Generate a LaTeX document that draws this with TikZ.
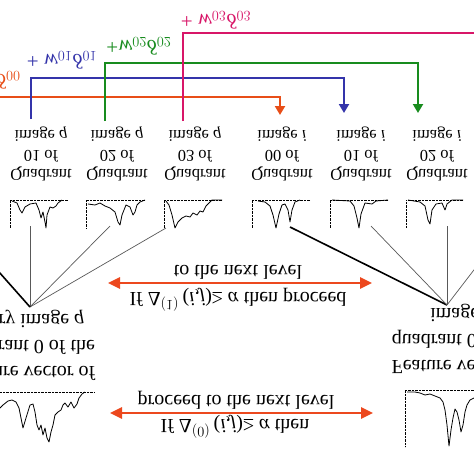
\documentclass[tikz,border=0pt]{standalone}
\usepackage{fontspec}
\setmainfont{Liberation Serif}
\usetikzlibrary{arrows.meta}
\definecolor{cora}{RGB}{232,78,24}
\definecolor{cblu}{RGB}{52,52,170}
\definecolor{cgrn}{RGB}{24,140,30}
\definecolor{cmag}{RGB}{216,22,104}
\definecolor{carr}{RGB}{236,72,30}
\begin{document}
\begin{tikzpicture}[x=1pt,y=1pt,yscale=-1,transform shape,
  qlab/.style={font=\fontsize{16.5}{19.5}\selectfont,align=center,inner sep=0pt},
  flab/.style={font=\fontsize{20}{26}\selectfont,align=center,inner sep=0pt},
  mlab/.style={font=\fontsize{20}{24}\selectfont,inner sep=0pt},
  wlab/.style={font=\fontsize{21}{24}\selectfont,inner sep=0pt},
  conn/.style={line width=2pt},
  tipd/.style={-{Triangle[length=9pt,width=10pt]}},
  thinl/.style={gray!70!black,line width=0.7pt},
  boldl/.style={black,line width=1.6pt},
  dbl/.style={carr,line width=2.6pt,{Triangle[length=12pt,width=11pt]}-{Triangle[length=12pt,width=11pt]}},
  axis/.style={black,line width=1pt,dash pattern=on 0.7pt off 0.7pt},
  curve/.style={black,line width=0.8pt,line join=round}
]
\fill[white] (0,0) rectangle (474,474);
\useasboundingbox (0,0) rectangle (474,474);
\clip (0,0) rectangle (474,474);

% weight labels
\node[wlab,text=cmag] (w3) at (216,20) {+ \textit{w}$_{03}$\textit{δ}$_{03}$};
\node[wlab,text=cgrn] (w2) at (139,46) {+\textit{w}$_{02}$\textit{δ}$_{02}$};
\node[wlab,text=cblu] (w1) at (62,60) {+ \textit{w}$_{01}$\textit{δ}$_{01}$};
\node[wlab,text=cora,anchor=east] (w0) at (21,80) {+ \textit{w}$_{00}$\textit{δ}$_{00}$};

% quadrant labels
\node[qlab] (q1) at (41,154) {Quadrant\\01 of\\image \textit{q}};
\node[qlab] (q2) at (117,154) {Quadrant\\02 of\\image \textit{q}};
\node[qlab] (q3) at (195,154) {Quadrant\\03 of\\image \textit{q}};
\node[qlab] (q4) at (282,154) {Quadrant\\00 of\\image \textit{i}};
\node[qlab] (q5) at (361,154) {Quadrant\\01 of\\image \textit{i}};
\node[qlab] (q6) at (437,154) {Quadrant\\02 of\\image \textit{i}};

% connector ends
\coordinate (o0) at (-10,97);
\coordinate (o4) at (280,115);
\coordinate (b1) at (31,119);
\coordinate (b5) at (344,113);
\coordinate (g2) at (105,121);
\coordinate (g6) at (418,113);
\coordinate (m3) at (183,121);
\coordinate (mR) at (490,33);

\draw[conn,cora,tipd] (o0) -| (o4);
\draw[conn,cblu,tipd] (b1) |- (344,78) -- (b5);
\draw[conn,cgrn,tipd] (g2) |- (418,63) -- (g6);
\draw[conn,cmag] (m3) |- (mR);

% small plots
\draw[axis] (68,200) -- (10,200) -- (10,228);
\draw[curve] plot coordinates {(12,201) (17,203) (20,210) (22,213) (25,207) (30,204) (36,203) (39,210) (41,218) (43,212) (45,222) (46,228) (47,215) (50,207) (53,208) (56,206) (58,203) (62,200)};
\draw[axis] (145,200) -- (86,200) -- (86,228);
\draw[curve] plot coordinates {(88,204) (95,205) (100,203) (105,206) (110,208) (115,212) (118,222) (120,225) (122,215) (126,205) (130,207) (133,215) (135,212) (137,205) (140,202) (145,200)};
\draw[axis] (222,200) -- (164,200) -- (164,228);
\draw[curve] plot coordinates {(166,201) (169,205) (172,215) (175,228) (178,222) (182,218) (186,216) (190,217) (193,213) (197,215) (200,211) (203,212) (206,206) (209,203) (212,200) (222,200)};
\draw[axis] (310,200) -- (252,200) -- (252,228);
\draw[curve] plot coordinates {(258,201) (265,202) (270,206) (273,215) (276,228) (279,214) (282,205) (285,204) (288,210) (290,222) (292,210) (295,202) (300,200)};
\draw[axis] (388,200) -- (330,200) -- (330,228);
\draw[curve] plot coordinates {(332,200) (350,201) (354,206) (357,218) (359,228) (361,214) (365,203) (372,204) (376,201) (388,200)};
\draw[axis] (463,200) -- (406,200) -- (406,228);
\draw[curve] plot coordinates {(408,200) (420,202) (425,206) (428,220) (430,224) (432,210) (436,204) (442,203) (445,210) (447,204) (452,200) (463,200)};

% plot anchors and merge points
\coordinate (p1) at (30,226);
\coordinate (p2) at (110,226);
\coordinate (p3) at (166,228);
\coordinate (p0) at (-40,228);
\coordinate (L) at (30,307);
\coordinate (p4) at (290,227);
\coordinate (p5) at (371,226);
\coordinate (p6) at (447,226);
\coordinate (p7) at (500,236);
\coordinate (R) at (447,305);

\draw[thinl] (p1) -- (L);
\draw[thinl] (p2) -- (L);
\draw[thinl] (p3) -- (L);
\draw[boldl] (p0) -- (L);
\draw[boldl] (p4) -- (R);
\draw[thinl] (p5) -- (R);
\draw[thinl] (p6) -- (R);
\draw[thinl] (p7) -- (R);

% feature labels
\node[flab] (fq) at (27,345) {Feature vector of\\quadrant 0 of the\\query image \textit{q}};
\node[flab] (fi) at (460,339) {Feature vector of\\quadrant 0 of the\\image \textit{i}};

% level 1 arrow
\coordinate (a1l) at (108,283);
\coordinate (a1r) at (372,283);
\draw[dbl] (a1l) -- (a1r);
\node[mlab] (t1a) at (238,272) {to the next level};
\node[mlab] (t1b) at (238,300) {If Δ$^{(1)}$\,(\textit{i},\textit{j})≥ \textit{α} then proceed};

% level 0 arrow
\coordinate (a0l) at (110,413);
\coordinate (a0r) at (373,413);
\draw[dbl] (a0l) -- (a0r);
\node[mlab] (t0a) at (236,400) {proceed to the next level};
\node[mlab] (t0b) at (235,427) {If Δ$^{(0)}$\,(\textit{i},\textit{j})≥ \textit{α} then};

% big plots
\draw[axis] (0,392) -- (95,392);
\draw[curve] plot coordinates {(0,408) (3,405) (8,401) (12,400) (16,402) (19,408) (21,418) (23,428) (26,418) (30,405) (33,404) (35,412) (37,425) (39,430) (41,425) (43,435) (45,428) (47,438) (49,442) (51,432) (53,425) (55,415) (58,412) (61,410) (63,405) (65,403) (68,407) (71,402) (74,408) (77,404) (79,398) (82,394) (85,392)};
\draw[axis] (474,390) -- (405,390) -- (405,447);
\draw[curve] plot coordinates {(407,392) (415,392) (420,393) (425,395) (430,394) (435,396) (440,398) (443,402) (445,410) (447,425) (449,446) (451,430) (453,418) (455,409) (457,412) (459,420) (461,432) (463,425) (465,412) (467,405) (470,400) (474,398)};
\end{tikzpicture}
\end{document}
